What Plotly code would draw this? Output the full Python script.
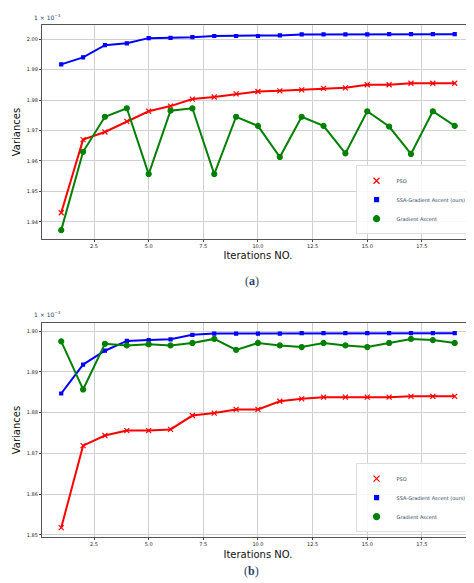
import plotly.graph_objects as go

iters = list(range(1, 20))

# panel (a)
pso_a = [1.943, 1.967, 1.9695, 1.973, 1.9763, 1.978, 1.9803, 1.981, 1.982, 1.9828,
         1.983, 1.9833, 1.9838, 1.984, 1.985, 1.985, 1.9855, 1.9855, 1.9855]
ssa_a = [1.9917, 1.994, 1.998, 1.9986, 2.0003, 2.0004, 2.0006, 2.001, 2.001, 2.001,
         2.0012, 2.0015, 2.0015, 2.0015, 2.0015, 2.0016, 2.0016, 2.0016, 2.0016]
ga_a = [1.9373, 1.963, 1.9745, 1.9773, 1.9557, 1.9765, 1.9773, 1.9557, 1.9745, 1.9715,
        1.9613, 1.9745, 1.9715, 1.9625, 1.9763, 1.9713, 1.9623, 1.9763, 1.9715]

# panel (b)
pso_b = [1.8518, 1.8719, 1.8744, 1.8756, 1.8756, 1.8759, 1.8793, 1.8799, 1.8808, 1.8808,
         1.8828, 1.8834, 1.8838, 1.8838, 1.8838, 1.8838, 1.884, 1.884, 1.884]
ssa_b = [1.8847, 1.8918, 1.8952, 1.8976, 1.8978, 1.898, 1.8991, 1.8994, 1.8994, 1.8994,
         1.8994, 1.8995, 1.8995, 1.8995, 1.8995, 1.8995, 1.8995, 1.8995, 1.8995]
ga_b = [1.8975, 1.8857, 1.8969, 1.8965, 1.8968, 1.8965, 1.8971, 1.8981, 1.8954, 1.8971,
        1.8965, 1.8961, 1.8971, 1.8965, 1.8961, 1.8971, 1.8981, 1.8978, 1.8971]

names = ["PSO", "SSA-Gradient Ascent (ours)", "Gradient Ascent"]
colors = ["red", "blue", "green"]
symbols = ["x-thin", "square", "circle"]
msizes = [5, 3, 5]

fig = go.Figure()
panels = [([pso_a, ssa_a, ga_a], "x", "y", "legend"),
          ([pso_b, ssa_b, ga_b], "x2", "y2", "legend2")]
for series, xa, ya, leg in panels:
    for i, vals in enumerate(series):
        fig.add_trace(go.Scatter(
            x=iters, y=vals, mode="lines+markers", name=names[i], showlegend=False,
            line=dict(color=colors[i], width=2),
            marker=dict(symbol=symbols[i], size=msizes[i], color=colors[i],
                        line=dict(color=colors[i], width=1.2)),
            xaxis=xa, yaxis=ya))
    # marker-only legend entries, like the scatter legend in the reference
    for i in range(3):
        fig.add_trace(go.Scatter(
            x=[None], y=[None], mode="markers", name=names[i],
            marker=dict(symbol=symbols[i], size=msizes[i] + 1, color=colors[i],
                        line=dict(color=colors[i], width=1.2)),
            xaxis=xa, yaxis=ya, legend=leg))

ax = dict(showgrid=True, gridcolor="#d0d0d0", gridwidth=1, showline=True,
          linecolor="#555", linewidth=1, mirror=True, ticks="outside", ticklen=2,
          tickfont=dict(size=5, family="DejaVu Sans", color="#222"), zeroline=False)
xticks = [2.5, 5.0, 7.5, 10.0, 12.5, 15.0, 17.5]
tfont = dict(size=10, family="DejaVu Sans", color="#111")
xt = dict(ax, range=[0.12, 19.88], tickvals=xticks, ticktext=[f"{v:.1f}" for v in xticks],
          title=dict(text="Iterations NO.", font=tfont, standoff=4))

legend_style = dict(xanchor="right", yanchor="bottom", bgcolor="rgba(255,255,255,0.85)",
                    bordercolor="#ddd", borderwidth=1, font=dict(size=5, family="DejaVu Sans"),
                    itemwidth=30, tracegroupgap=0)

fig.update_layout(
    width=474, height=583, margin=dict(l=0, r=0, t=0, b=0),
    plot_bgcolor="white", paper_bgcolor="white", showlegend=True,
    xaxis=dict(xt, domain=[0.0717, 0.983], anchor="y"),
    yaxis=dict(ax, domain=[0.6038, 0.9708], anchor="x", range=[1.9344, 2.0046],
               tickvals=[1.94, 1.95, 1.96, 1.97, 1.98, 1.99, 2.00], tickformat=".2f",
               title=dict(text="Variances", font=tfont, standoff=4)),
    xaxis2=dict(xt, domain=[0.0717, 0.983], anchor="y2"),
    yaxis2=dict(ax, domain=[0.0926, 0.4597], anchor="x2", range=[1.8495, 1.902],
                tickvals=[1.85, 1.86, 1.87, 1.88, 1.89, 1.90], tickformat=".2f",
                title=dict(text="Variances", font=tfont, standoff=4)),
    legend=dict(legend_style, x=0.978, y=0.612),
    legend2=dict(legend_style, x=0.978, y=0.101),
    annotations=[
        dict(text="1 × 10<sup>−3</sup>", x=0.05, y=0.975, xref="paper", yref="paper",
             showarrow=False, xanchor="left", yanchor="bottom",
             font=dict(size=6, family="DejaVu Sans")),
        dict(text="1 × 10<sup>−3</sup>", x=0.05, y=0.464, xref="paper", yref="paper",
             showarrow=False, xanchor="left", yanchor="bottom",
             font=dict(size=6, family="DejaVu Sans")),
        dict(text="(<b>a</b>)", x=0.514, y=1 - 273 / 583, xref="paper", yref="paper",
             showarrow=False, font=dict(size=12, family="Liberation Serif")),
        dict(text="(<b>b</b>)", x=0.514, y=1 - 572 / 583, xref="paper", yref="paper",
             showarrow=False, font=dict(size=12, family="Liberation Serif")),
    ],
)

fig.write_html("out.html")
